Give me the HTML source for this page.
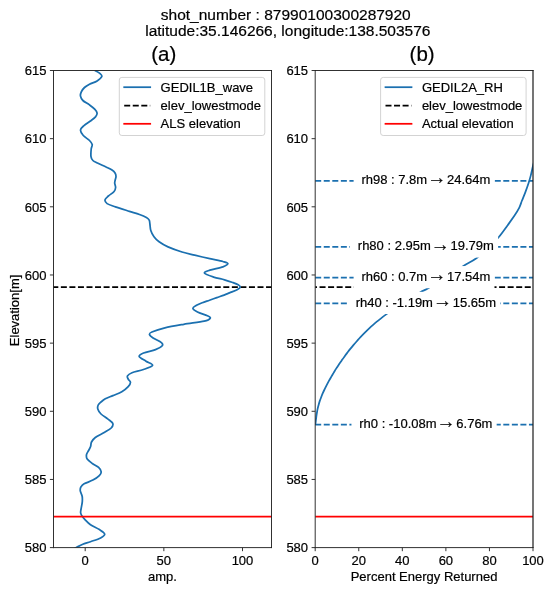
<!DOCTYPE html><html><head><meta charset="utf-8"><style>html,body{margin:0;padding:0;background:#fff;}svg{display:block;}text{font-family:"Liberation Sans",Arial,Helvetica,sans-serif;fill:#000;stroke:#000;stroke-width:0.2px;}</style></head><body>
<svg width="550" height="590" viewBox="0 0 550 590">
<rect x="0" y="0" width="550" height="590" fill="#fff"/>
<clipPath id="ca"><rect x="53.50" y="70.50" width="218.00" height="477.10"/></clipPath>
<clipPath id="cb"><rect x="315.20" y="70.50" width="217.80" height="477.10"/></clipPath>
<text x="160.8" y="19.8" style="font-size:15.5px">shot_number : 87990100300287920</text>
<text x="145.2" y="36.0" style="font-size:15.5px">latitude:35.146266, longitude:138.503576</text>
<text x="151.2" y="61.3" style="font-size:20.5px">(a)</text>
<text x="409.6" y="61.3" style="font-size:20.5px">(b)</text>
<g clip-path="url(#ca)">
<line x1="52.3" y1="287.10" x2="272" y2="287.10" stroke="#000" stroke-width="1.75" stroke-dasharray="6 2.55"/>
<path d="M94.90,70.50 C95.72,70.97 98.65,72.30 99.80,73.30 C100.95,74.30 102.25,75.23 101.80,76.50 C101.35,77.77 99.15,79.62 97.10,80.90 C95.05,82.18 91.60,83.10 89.50,84.20 C87.40,85.30 85.87,86.23 84.50,87.50 C83.13,88.77 81.97,90.35 81.30,91.80 C80.63,93.25 80.23,94.75 80.50,96.20 C80.77,97.65 81.40,99.05 82.90,100.50 C84.40,101.95 87.50,103.43 89.50,104.90 C91.50,106.37 93.63,107.93 94.90,109.30 C96.17,110.67 97.00,111.83 97.10,113.10 C97.20,114.37 96.68,115.53 95.50,116.90 C94.32,118.27 91.92,119.85 90.00,121.30 C88.08,122.75 85.58,124.15 84.00,125.60 C82.42,127.05 80.62,128.35 80.50,130.00 C80.38,131.65 81.80,133.75 83.30,135.50 C84.80,137.25 88.02,139.00 89.50,140.50 C90.98,142.00 91.92,143.08 92.20,144.50 C92.48,145.92 91.40,146.98 91.20,149.00 C91.00,151.02 90.72,154.68 91.00,156.60 C91.28,158.52 91.83,159.43 92.90,160.50 C93.97,161.57 95.28,161.95 97.40,163.00 C99.52,164.05 103.17,165.63 105.60,166.80 C108.03,167.97 110.40,168.93 112.00,170.00 C113.60,171.07 114.53,172.12 115.20,173.20 C115.87,174.28 116.00,175.37 116.00,176.50 C116.00,177.63 115.42,178.87 115.20,180.00 C114.98,181.13 114.63,182.05 114.70,183.30 C114.77,184.55 115.70,186.13 115.60,187.50 C115.50,188.87 115.30,190.08 114.10,191.50 C112.90,192.92 109.92,194.62 108.40,196.00 C106.88,197.38 105.22,198.53 105.00,199.80 C104.78,201.07 105.37,202.43 107.10,203.60 C108.83,204.77 111.68,205.52 115.40,206.80 C119.12,208.08 125.38,210.02 129.40,211.30 C133.42,212.58 136.67,213.45 139.50,214.50 C142.33,215.55 144.78,216.65 146.40,217.60 C148.02,218.55 148.62,219.13 149.20,220.20 C149.78,221.27 149.63,222.30 149.90,224.00 C150.17,225.70 150.12,228.28 150.80,230.40 C151.48,232.52 152.62,234.80 154.00,236.70 C155.38,238.60 156.77,240.10 159.10,241.80 C161.43,243.50 164.18,245.20 168.00,246.90 C171.82,248.60 177.55,250.62 182.00,252.00 C186.45,253.38 190.07,254.08 194.70,255.20 C199.33,256.32 205.10,257.65 209.80,258.70 C214.50,259.75 219.88,260.68 222.90,261.50 C225.92,262.32 227.90,262.70 227.90,263.60 C227.90,264.50 225.92,265.80 222.90,266.90 C219.88,268.00 212.87,269.15 209.80,270.20 C206.73,271.25 203.87,272.05 204.50,273.20 C205.13,274.35 210.27,276.00 213.60,277.10 C216.93,278.20 221.32,278.90 224.50,279.80 C227.68,280.70 230.42,281.67 232.70,282.50 C234.98,283.33 236.95,284.03 238.20,284.80 C239.45,285.57 240.32,286.30 240.20,287.10 C240.08,287.90 239.28,288.63 237.50,289.60 C235.72,290.57 231.73,291.98 229.50,292.90 C227.27,293.82 226.22,294.32 224.10,295.10 C221.98,295.88 219.23,296.75 216.80,297.60 C214.37,298.45 211.92,299.35 209.50,300.20 C207.08,301.05 204.47,301.85 202.30,302.70 C200.13,303.55 198.07,304.35 196.50,305.30 C194.93,306.25 192.73,307.28 192.90,308.40 C193.07,309.52 195.08,310.77 197.50,312.00 C199.92,313.23 205.28,314.77 207.40,315.80 C209.52,316.83 210.73,317.30 210.20,318.20 C209.67,319.10 208.60,320.18 204.20,321.20 C199.80,322.22 190.35,323.20 183.80,324.30 C177.25,325.40 170.22,326.52 164.90,327.80 C159.58,329.08 154.47,330.88 151.90,332.00 C149.33,333.12 149.30,333.50 149.50,334.50 C149.70,335.50 151.12,336.65 153.10,338.00 C155.08,339.35 159.88,341.30 161.40,342.60 C162.92,343.90 163.18,344.63 162.20,345.80 C161.22,346.97 158.60,348.40 155.50,349.60 C152.40,350.80 146.32,351.85 143.60,353.00 C140.88,354.15 138.80,355.13 139.20,356.50 C139.60,357.87 143.77,359.75 146.00,361.20 C148.23,362.65 153.02,363.82 152.60,365.20 C152.18,366.58 146.93,368.25 143.50,369.50 C140.07,370.75 134.67,371.63 132.00,372.70 C129.33,373.77 128.13,374.83 127.50,375.90 C126.87,376.97 127.70,378.03 128.20,379.10 C128.70,380.17 130.50,381.03 130.50,382.30 C130.50,383.57 129.65,385.12 128.20,386.70 C126.75,388.28 124.35,390.32 121.80,391.80 C119.25,393.28 115.65,394.43 112.90,395.60 C110.15,396.77 107.32,397.70 105.30,398.80 C103.28,399.90 101.98,401.17 100.80,402.20 C99.62,403.23 98.70,403.88 98.20,405.00 C97.70,406.12 97.33,407.40 97.80,408.90 C98.27,410.40 99.30,412.30 101.00,414.00 C102.70,415.70 106.03,417.52 108.00,419.10 C109.97,420.68 112.27,422.02 112.80,423.50 C113.33,424.98 112.63,426.50 111.20,428.00 C109.77,429.50 106.85,430.92 104.20,432.50 C101.55,434.08 97.42,435.92 95.30,437.50 C93.18,439.08 92.28,440.50 91.50,442.00 C90.72,443.50 91.08,445.08 90.60,446.50 C90.12,447.92 89.28,449.15 88.60,450.50 C87.92,451.85 86.73,453.17 86.50,454.60 C86.27,456.03 86.23,457.62 87.20,459.10 C88.17,460.58 90.40,462.12 92.30,463.50 C94.20,464.88 97.12,466.02 98.60,467.40 C100.08,468.78 101.08,470.43 101.20,471.80 C101.32,473.17 100.68,474.22 99.30,475.60 C97.92,476.98 95.43,478.73 92.90,480.10 C90.37,481.47 86.10,482.65 84.10,483.80 C82.10,484.95 81.55,485.93 80.90,487.00 C80.25,488.07 80.18,489.20 80.20,490.20 C80.22,491.20 80.67,491.95 81.00,493.00 C81.33,494.05 81.98,495.07 82.20,496.50 C82.42,497.93 82.42,499.90 82.30,501.60 C82.18,503.30 81.75,505.22 81.50,506.70 C81.25,508.18 80.93,509.43 80.80,510.50 C80.67,511.57 80.47,512.13 80.70,513.10 C80.93,514.07 81.42,515.13 82.20,516.30 C82.98,517.47 84.02,518.68 85.40,520.10 C86.78,521.52 88.17,523.22 90.50,524.80 C92.83,526.38 97.03,528.05 99.40,529.60 C101.77,531.15 104.50,532.72 104.70,534.10 C104.90,535.48 102.97,536.63 100.60,537.90 C98.23,539.17 93.47,540.63 90.50,541.70 C87.53,542.77 85.03,543.40 82.80,544.30 C80.57,545.20 78.90,546.15 77.10,547.10 C75.30,548.05 72.85,549.52 72.00,550.00" fill="none" stroke="#1b70b0" stroke-width="1.75" stroke-linejoin="round" stroke-linecap="butt"/>
<line x1="53.5" y1="516.66" x2="272" y2="516.66" stroke="#ff0000" stroke-width="1.75"/>
</g>
<g clip-path="url(#cb)">
<path d="M315.30,424.90 C315.37,424.38 315.53,423.15 315.70,421.80 C315.87,420.45 316.10,418.28 316.30,416.80 C316.50,415.32 316.68,414.22 316.90,412.90 C317.12,411.58 317.32,410.23 317.60,408.90 C317.88,407.57 318.23,406.23 318.60,404.90 C318.97,403.57 319.35,402.23 319.80,400.90 C320.25,399.57 320.78,398.23 321.30,396.90 C321.82,395.57 322.32,394.23 322.90,392.90 C323.48,391.57 324.15,390.23 324.80,388.90 C325.45,387.57 326.12,386.23 326.80,384.90 C327.48,383.57 328.17,382.23 328.90,380.90 C329.63,379.57 330.42,378.23 331.20,376.90 C331.98,375.57 332.80,374.23 333.60,372.90 C334.40,371.57 335.17,370.23 336.00,368.90 C336.83,367.57 337.70,366.23 338.60,364.90 C339.50,363.57 340.47,362.23 341.40,360.90 C342.33,359.57 343.23,358.23 344.20,356.90 C345.17,355.57 346.18,354.23 347.20,352.90 C348.22,351.57 349.23,350.23 350.30,348.90 C351.37,347.57 352.47,346.23 353.60,344.90 C354.73,343.57 355.92,342.23 357.10,340.90 C358.28,339.57 359.45,338.23 360.70,336.90 C361.95,335.57 363.27,334.23 364.60,332.90 C365.93,331.57 367.28,330.23 368.70,328.90 C370.12,327.57 371.58,326.23 373.10,324.90 C374.62,323.57 376.18,322.23 377.80,320.90 C379.42,319.57 381.05,318.23 382.80,316.90 C384.55,315.57 386.42,314.23 388.30,312.90 C390.18,311.57 391.77,310.47 394.10,308.90 C396.43,307.33 398.05,306.20 402.30,303.50 C406.55,300.80 415.28,295.25 419.60,292.70 C423.92,290.15 423.83,290.68 428.20,288.20 C432.57,285.72 440.05,281.43 445.80,277.80 C451.55,274.17 457.60,269.67 462.70,266.40 C467.80,263.13 471.95,261.42 476.40,258.20 C480.85,254.98 485.70,250.58 489.40,247.10 C493.10,243.62 495.58,240.92 498.60,237.30 C501.62,233.68 504.90,228.93 507.50,225.40 C510.10,221.87 512.23,219.07 514.20,216.10 C516.17,213.13 518.02,210.15 519.30,207.60 C520.58,205.05 520.90,203.33 521.90,200.80 C522.90,198.27 524.18,195.37 525.30,192.40 C526.42,189.43 527.68,185.83 528.60,183.00 C529.52,180.17 530.08,178.22 530.80,175.40 C531.52,172.58 532.37,168.33 532.90,166.10 C533.43,163.87 533.82,162.68 534.00,162.00" fill="none" stroke="#1b70b0" stroke-width="1.75" stroke-linejoin="round"/>
<line x1="315.20" y1="287.10" x2="533" y2="287.10" stroke="#000" stroke-width="1.75" stroke-dasharray="6 2.55" stroke-dashoffset="4.2"/>
<line x1="315.20" y1="516.66" x2="533" y2="516.66" stroke="#ff0000" stroke-width="1.75"/>
<line x1="315.20" y1="180.78" x2="533" y2="180.78" stroke="#1b70b0" stroke-width="1.75" stroke-dasharray="6 2.55"/>
<line x1="315.20" y1="246.89" x2="533" y2="246.89" stroke="#1b70b0" stroke-width="1.75" stroke-dasharray="6 2.55"/>
<line x1="315.20" y1="277.56" x2="533" y2="277.56" stroke="#1b70b0" stroke-width="1.75" stroke-dasharray="6 2.55"/>
<line x1="315.20" y1="303.32" x2="533" y2="303.32" stroke="#1b70b0" stroke-width="1.75" stroke-dasharray="6 2.55"/>
<line x1="315.20" y1="424.51" x2="533" y2="424.51" stroke="#1b70b0" stroke-width="1.75" stroke-dasharray="6 2.55"/>
</g>
<rect x="353.61" y="169.28" width="140.88" height="22.20" fill="#fff"/>
<text x="361.42" y="184.18" style="font-size:13px">rh98 : 7.8m</text>
<text x="427.20" y="184.48" style="font-size:19.1px">→</text>
<text x="446.93" y="184.18" style="font-size:13px">24.64m</text>
<rect x="350.00" y="235.39" width="148.11" height="22.20" fill="#fff"/>
<text x="357.81" y="250.29" style="font-size:13px">rh80 : 2.95m</text>
<text x="430.82" y="250.59" style="font-size:19.1px">→</text>
<text x="450.54" y="250.29" style="font-size:13px">19.79m</text>
<rect x="353.61" y="266.06" width="140.88" height="22.20" fill="#fff"/>
<text x="361.42" y="280.96" style="font-size:13px">rh60 : 0.7m</text>
<text x="427.20" y="281.26" style="font-size:19.1px">→</text>
<text x="446.93" y="280.96" style="font-size:13px">17.54m</text>
<rect x="347.83" y="291.82" width="152.44" height="22.20" fill="#fff"/>
<text x="355.64" y="306.72" style="font-size:13px">rh40 : -1.19m</text>
<text x="432.98" y="307.02" style="font-size:19.1px">→</text>
<text x="452.71" y="306.72" style="font-size:13px">15.65m</text>
<rect x="351.45" y="413.01" width="145.21" height="22.20" fill="#fff"/>
<text x="359.26" y="427.91" style="font-size:13px">rh0 : -10.08m</text>
<text x="436.60" y="428.21" style="font-size:19.1px">→</text>
<text x="456.32" y="427.91" style="font-size:13px">6.76m</text>
<path d="M53.50,70.50 H271.50 M53.50,547.60 H271.50 M53.50,70.50 V547.60" fill="none" stroke="#1a1a1a" stroke-width="0.9" stroke-linecap="square"/>
<line x1="271.50" y1="70.05" x2="271.50" y2="548.05" stroke="#1a1a1a" stroke-width="0.90"/>
<line x1="49.90" y1="547.60" x2="53.50" y2="547.60" stroke="#333" stroke-width="1"/>
<text x="46.40" y="552.40" text-anchor="end" style="font-size:13px">580</text>
<line x1="49.90" y1="479.44" x2="53.50" y2="479.44" stroke="#333" stroke-width="1"/>
<text x="46.40" y="484.24" text-anchor="end" style="font-size:13px">585</text>
<line x1="49.90" y1="411.29" x2="53.50" y2="411.29" stroke="#333" stroke-width="1"/>
<text x="46.40" y="416.09" text-anchor="end" style="font-size:13px">590</text>
<line x1="49.90" y1="343.13" x2="53.50" y2="343.13" stroke="#333" stroke-width="1"/>
<text x="46.40" y="347.93" text-anchor="end" style="font-size:13px">595</text>
<line x1="49.90" y1="274.97" x2="53.50" y2="274.97" stroke="#333" stroke-width="1"/>
<text x="46.40" y="279.77" text-anchor="end" style="font-size:13px">600</text>
<line x1="49.90" y1="206.81" x2="53.50" y2="206.81" stroke="#333" stroke-width="1"/>
<text x="46.40" y="211.61" text-anchor="end" style="font-size:13px">605</text>
<line x1="49.90" y1="138.66" x2="53.50" y2="138.66" stroke="#333" stroke-width="1"/>
<text x="46.40" y="143.46" text-anchor="end" style="font-size:13px">610</text>
<line x1="49.90" y1="70.50" x2="53.50" y2="70.50" stroke="#333" stroke-width="1"/>
<text x="46.40" y="75.30" text-anchor="end" style="font-size:13px">615</text>
<path d="M315.20,70.50 H533.00 M315.20,547.60 H533.00 M315.20,70.50 V547.60" fill="none" stroke="#1a1a1a" stroke-width="0.9" stroke-linecap="square"/>
<line x1="533.00" y1="70.05" x2="533.00" y2="548.05" stroke="#1a1a1a" stroke-width="1.20"/>
<line x1="311.60" y1="547.60" x2="315.20" y2="547.60" stroke="#333" stroke-width="1"/>
<text x="308.10" y="552.40" text-anchor="end" style="font-size:13px">580</text>
<line x1="311.60" y1="479.44" x2="315.20" y2="479.44" stroke="#333" stroke-width="1"/>
<text x="308.10" y="484.24" text-anchor="end" style="font-size:13px">585</text>
<line x1="311.60" y1="411.29" x2="315.20" y2="411.29" stroke="#333" stroke-width="1"/>
<text x="308.10" y="416.09" text-anchor="end" style="font-size:13px">590</text>
<line x1="311.60" y1="343.13" x2="315.20" y2="343.13" stroke="#333" stroke-width="1"/>
<text x="308.10" y="347.93" text-anchor="end" style="font-size:13px">595</text>
<line x1="311.60" y1="274.97" x2="315.20" y2="274.97" stroke="#333" stroke-width="1"/>
<text x="308.10" y="279.77" text-anchor="end" style="font-size:13px">600</text>
<line x1="311.60" y1="206.81" x2="315.20" y2="206.81" stroke="#333" stroke-width="1"/>
<text x="308.10" y="211.61" text-anchor="end" style="font-size:13px">605</text>
<line x1="311.60" y1="138.66" x2="315.20" y2="138.66" stroke="#333" stroke-width="1"/>
<text x="308.10" y="143.46" text-anchor="end" style="font-size:13px">610</text>
<line x1="311.60" y1="70.50" x2="315.20" y2="70.50" stroke="#333" stroke-width="1"/>
<text x="308.10" y="75.30" text-anchor="end" style="font-size:13px">615</text>
<line x1="85.20" y1="547.60" x2="85.20" y2="551.20" stroke="#333" stroke-width="1"/>
<text x="85.20" y="564.7" text-anchor="middle" style="font-size:13px">0</text>
<line x1="163.85" y1="547.60" x2="163.85" y2="551.20" stroke="#333" stroke-width="1"/>
<text x="163.85" y="564.7" text-anchor="middle" style="font-size:13px">50</text>
<line x1="242.50" y1="547.60" x2="242.50" y2="551.20" stroke="#333" stroke-width="1"/>
<text x="242.50" y="564.7" text-anchor="middle" style="font-size:13px">100</text>
<line x1="315.20" y1="547.60" x2="315.20" y2="551.20" stroke="#333" stroke-width="1"/>
<text x="315.20" y="564.7" text-anchor="middle" style="font-size:13px">0</text>
<line x1="358.76" y1="547.60" x2="358.76" y2="551.20" stroke="#333" stroke-width="1"/>
<text x="358.76" y="564.7" text-anchor="middle" style="font-size:13px">20</text>
<line x1="402.32" y1="547.60" x2="402.32" y2="551.20" stroke="#333" stroke-width="1"/>
<text x="402.32" y="564.7" text-anchor="middle" style="font-size:13px">40</text>
<line x1="445.88" y1="547.60" x2="445.88" y2="551.20" stroke="#333" stroke-width="1"/>
<text x="445.88" y="564.7" text-anchor="middle" style="font-size:13px">60</text>
<line x1="489.44" y1="547.60" x2="489.44" y2="551.20" stroke="#333" stroke-width="1"/>
<text x="489.44" y="564.7" text-anchor="middle" style="font-size:13px">80</text>
<line x1="533.00" y1="547.60" x2="533.00" y2="551.20" stroke="#333" stroke-width="1"/>
<text x="533.00" y="564.7" text-anchor="middle" style="font-size:13px">100</text>
<text x="162.5" y="580.6" text-anchor="middle" style="font-size:13px">amp.</text>
<text x="424.05" y="580.6" text-anchor="middle" style="font-size:13px">Percent Energy Returned</text>
<text transform="translate(18.9,310.4) rotate(-90)" x="0" y="0" text-anchor="middle" style="font-size:13px">Elevation[m]</text>
<rect x="119.30" y="77.40" width="145.50" height="58.10" rx="2.6" ry="2.6" fill="#fff" fill-opacity="0.8" stroke="#d3d3d3" stroke-width="1"/>
<line x1="124.20" y1="87.20" x2="150.20" y2="87.20" stroke="#1b70b0" stroke-width="1.75" stroke-linecap="square"/>
<text x="160.60" y="91.60" style="font-size:13px">GEDIL1B_wave</text>
<line x1="124.20" y1="105.50" x2="150.20" y2="105.50" stroke="#000" stroke-width="1.75" stroke-dasharray="6 2.55"/>
<text x="160.60" y="109.90" style="font-size:13px">elev_lowestmode</text>
<line x1="124.20" y1="123.80" x2="150.20" y2="123.80" stroke="#ff0000" stroke-width="1.75" stroke-linecap="square"/>
<text x="160.60" y="128.20" style="font-size:13px">ALS elevation</text>
<rect x="380.60" y="77.40" width="145.50" height="58.10" rx="2.6" ry="2.6" fill="#fff" fill-opacity="0.8" stroke="#d3d3d3" stroke-width="1"/>
<line x1="385.50" y1="87.20" x2="411.50" y2="87.20" stroke="#1b70b0" stroke-width="1.75" stroke-linecap="square"/>
<text x="421.90" y="91.60" style="font-size:13px">GEDIL2A_RH</text>
<line x1="385.50" y1="105.50" x2="411.50" y2="105.50" stroke="#000" stroke-width="1.75" stroke-dasharray="6 2.55"/>
<text x="421.90" y="109.90" style="font-size:13px">elev_lowestmode</text>
<line x1="385.50" y1="123.80" x2="411.50" y2="123.80" stroke="#ff0000" stroke-width="1.75" stroke-linecap="square"/>
<text x="421.90" y="128.20" style="font-size:13px">Actual elevation</text>
</svg></body></html>
